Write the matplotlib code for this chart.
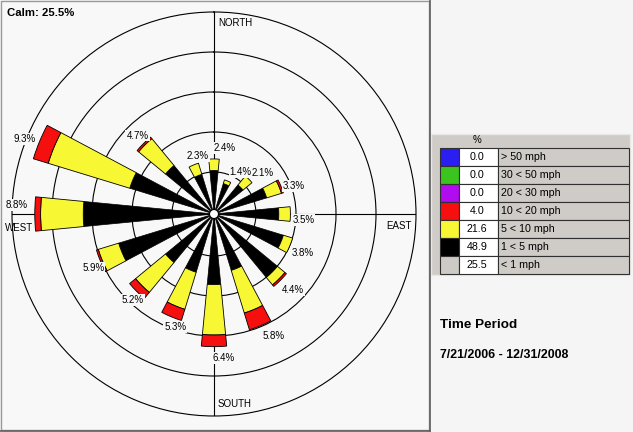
import numpy as np
import matplotlib.pyplot as plt
from matplotlib.patches import Rectangle, Circle

# wind directions, clockwise from north
directions = ["N", "NNE", "NE", "ENE", "E", "ESE", "SE", "SSE",
              "S", "SSW", "SW", "WSW", "W", "WNW", "NW", "NNW"]
totals = [2.4, 1.4, 2.1, 3.3, 3.5, 3.8, 4.4, 5.8, 6.4, 5.3, 5.2, 5.9, 8.8, 9.3, 4.7, 2.3]
speed_1_5 = [1.8, 1.2, 1.5, 2.4, 2.9, 3.3, 3.8, 2.6, 3.2, 2.7, 2.8, 4.7, 6.3, 4.1, 2.8, 1.7]
speed_5_10 = [0.6, 0.2, 0.6, 0.8, 0.6, 0.5, 0.5, 2.3, 2.6, 2.0, 2.0, 1.1, 2.2, 4.4, 1.8, 0.6]
speed_10_20 = [0.0, 0.0, 0.0, 0.1, 0.0, 0.0, 0.1, 0.9, 0.6, 0.6, 0.4, 0.1, 0.3, 0.8, 0.1, 0.0]

calm_pct = 25.5

# legend table
legend_labels = ["> 50 mph", "30 < 50 mph", "20 < 30 mph", "10 < 20 mph",
                 "5 < 10 mph", "1 < 5 mph", "< 1 mph"]
legend_pct = [0.0, 0.0, 0.0, 4.0, 21.6, 48.9, 25.5]
legend_colors = ["#2a1ef2", "#3cc41e", "#b00cef", "#f50f0f", "#f7f733", "#000000", "#cdc9c5"]

period_text = "7/21/2006 - 12/31/2008"

# label offsets from bar tip (pixels, y up)
label_offsets = [(11, 11), (13, 9), (14, 6), (13, 0), (13, -6), (13, -8), (13, -10), (13, -10),
                 (10, -11), (4, -10), (-4, -9), (-7, -7), (-18, 9), (-15, 3), (-6, 8), (4, 9)]

W, H = 633, 432
plt.rcParams['font.family'] = ['Liberation Sans', 'DejaVu Sans']

fig = plt.figure(figsize=(W / 100, H / 100), dpi=100)
fig.patch.set_facecolor('#f5f5f5')

# background axes in pixel coordinates
bg = fig.add_axes([0, 0, 1, 1])
bg.set_xlim(0, W)
bg.set_ylim(H, 0)
bg.axis('off')

bg.add_patch(Rectangle((0.5, 0.5), 428.5, 429.5, facecolor='#f8f8f8', edgecolor='#9a9a9a', lw=1))
bg.plot([429.5, 429.5], [0, 431], color='#606060', lw=1.2)
bg.plot([0, 430], [430.5, 430.5], color='#606060', lw=1.2)

bg.text(7, 13, f"Calm: {calm_pct}%", fontsize=8.2, fontweight='bold', va='center', ha='left')
bg.text(218, 23, "NORTH", fontsize=7, va='center', ha='left')
bg.text(218, 404, "SOUTH", fontsize=7, va='center', ha='left')
bg.text(386, 226, "EAST", fontsize=7, va='center', ha='left')
bg.text(5, 228, "WEST", fontsize=7, va='center', ha='left')

# legend table
bg.add_patch(Rectangle((431, 134), 199, 141, facecolor='#cfcbc7', edgecolor='#e8e8e8', lw=1))
bg.text(477, 140, "%", fontsize=7, ha='center', va='center')
row_h = 18.1
y0 = 147.5
for i, (lab, pct, col) in enumerate(zip(legend_labels, legend_pct, legend_colors)):
    y = y0 + i * row_h
    bg.add_patch(Rectangle((440, y), 19, row_h, facecolor=col, edgecolor='#303030', lw=0.8))
    bg.add_patch(Rectangle((459, y), 39, row_h, facecolor='white', edgecolor='#303030', lw=0.8))
    bg.add_patch(Rectangle((498, y), 131, row_h, facecolor='#cfcbc7', edgecolor='#303030', lw=0.8))
    bg.text(477, y + row_h / 2, f"{pct:.1f}", fontsize=7.7, ha='center', va='center')
    bg.text(501, y + row_h / 2, lab, fontsize=7.7, ha='left', va='center')

bg.text(440, 325, "Time Period", fontsize=9.7, fontweight='bold', ha='left', va='center')
bg.text(440, 355, period_text, fontsize=8.9, fontweight='bold', ha='left', va='center')

# wind rose (polar axes), scale: px = 8.5 + 19.4 * pct
cx, cy, R = 214, 214, 202
px_per_pct = 19.4
c = 8.5 / px_per_pct
rmax = R / px_per_pct - c
ring_px = [42, 82, 122, 162]
rings = [(p - 8.5) / px_per_pct for p in ring_px]

ax = fig.add_axes([(cx - R) / W, (H - cy - R) / H, 2 * R / W, 2 * R / H], projection='polar')
ax.set_facecolor('none')
ax.set_theta_zero_location('N')
ax.set_theta_direction(-1)
ax.set_ylim(-c, rmax)
ax.set_yticks(rings)
ax.set_yticklabels([])
ax.set_xticks([])
ax.grid(True, axis='y', color='black', lw=0.8)
ax.grid(False, axis='x')
ax.spines['polar'].set_linewidth(0.8)
ax.spines['polar'].set_color('black')

for ang in [0, 90, 180, 270]:
    ax.plot([np.radians(ang)] * 2, [-c, rmax], color='black', lw=0.8, zorder=1)

theta = np.radians(np.arange(16) * 22.5)
width = np.radians(11)
black = np.array(speed_1_5)
yellow = np.array(speed_5_10)
red = np.array(speed_10_20)

ax.bar(theta, black + c, width=width, bottom=-c, color='black', edgecolor='black', lw=0.5, zorder=3)
ax.bar(theta, yellow, width=width, bottom=black, color='#f7f733', edgecolor='black', lw=0.6, zorder=3)
mask = red > 0
ax.bar(theta[mask], red[mask], width=width, bottom=(black + yellow)[mask],
       color='#f50f0f', edgecolor='black', lw=0.6, zorder=3)

ax.add_patch(Circle((0.5, 0.5), 4.5 / (2 * R), transform=ax.transAxes,
                    facecolor='white', edgecolor='black', lw=0.8, zorder=5))

for t, tot, off in zip(theta, totals, label_offsets):
    ax.annotate(f"{tot}%", xy=(t, tot), xytext=off, textcoords='offset pixels',
                ha='center', va='center', fontsize=7, zorder=6, annotation_clip=False,
                bbox=dict(boxstyle='square,pad=0.1', fc='#f8f8f8', ec='none'))

fig.savefig("out.png", dpi=100, facecolor=fig.get_facecolor())
